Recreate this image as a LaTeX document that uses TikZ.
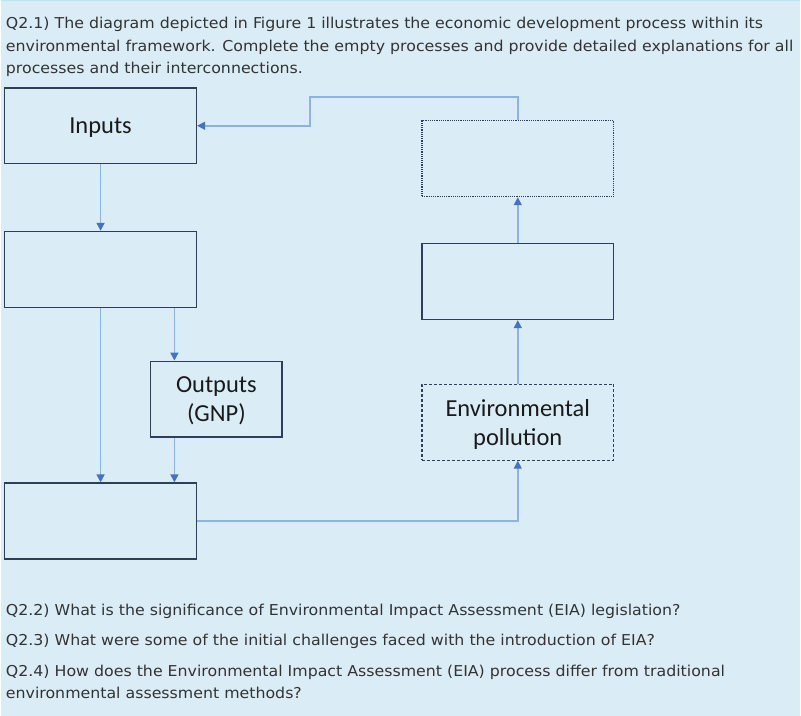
\documentclass[tikz,border=0pt]{standalone}
\usepackage{fontspec}
\usepackage{xcolor}
\usetikzlibrary{positioning}
\usetikzlibrary{arrows.meta}
\newfontfamily\qfont[FakeStretch=1.055]{DejaVu Sans}
\newfontfamily\boxfont{Carlito}
\definecolor{pagebg}{RGB}{218,237,246}
\definecolor{pagetop}{RGB}{190,228,240}
\definecolor{boxline}{RGB}{47,62,92}
\definecolor{linkline}{RGB}{141,179,226}
\definecolor{linkhead}{RGB}{68,114,196}
\definecolor{qtext}{RGB}{51,51,51}
\definecolor{boxtext}{RGB}{26,26,26}

\begin{document}
\begin{tikzpicture}[x=1pt, y=-1pt,
    procnode/.style={shape=rectangle, draw=boxline, line width=1.5pt, minimum width=192pt, minimum height=76pt, inner sep=0pt, text depth=0pt, font=\boxfont\fontsize{24.5}{29}\selectfont, text=boxtext, align=center},
    dotnode/.style={procnode, line width=1.2pt, densely dotted},
    dashnode/.style={procnode, line width=1.2pt, dash pattern=on 3pt off 2pt},
    link/.style={draw=linkline, line width=1.5pt, -{Triangle[length=8pt, width=8pt, color=linkhead]}},
    question/.style={anchor=base west, inner sep=0pt, align=left, text=qtext, font=\qfont\fontsize{15}{22.5}\selectfont}
]
% Page
\fill[pagebg] (0,0) rectangle (801,717);
\draw[pagetop, line width=1.5pt] (0,0.75) -- (801,0.75);
\useasboundingbox (0,0) rectangle (801,717);

% Questions (base = last line)
\node[question] (q_one) at (5,74) {Q2.1) The diagram depicted in Figure 1 illustrates the economic development process within its\\environmental framework. Complete the empty processes and provide detailed explanations for all\\processes and their interconnections.};

% Boxes
\node[procnode] (inputs) at (100,126) {Inputs};
\node[procnode] (prod) at (100,270) {};
\node[procnode, minimum width=132pt] (outputs) at (216,400) {Outputs\\(GNP)};
\node[procnode] (consume) at (100,522) {};

\node[dotnode] (top_box) at (518,159) {};
\node[procnode] (mid_box) at (518,282) {};
\node[dashnode] (pollution) at (518,423) {Environmental\\pollution};

% Coordinates
\coordinate (gnp_in) at ([xshift=-42pt]outputs.north);
\coordinate (loop_corner) at (310,97);

% Arrows
\draw[link] (inputs) -- (prod);
\draw[link] (prod) -- (consume);
\draw[link] (prod.south -| gnp_in) -- (gnp_in);
\draw[link] (outputs.south -| gnp_in) -- (consume.north -| gnp_in);
\draw[link] (consume.east) -| (pollution.south);
\draw[link] (pollution) -- (mid_box);
\draw[link] (mid_box) -- (top_box);
\draw[link] (top_box.north) |- (loop_corner) |- (inputs.east);

\node[question] (q_two) at (5,617) {Q2.2) What is the significance of Environmental Impact Assessment (EIA) legislation?};
\node[question] (q_three) at (5,647) {Q2.3) What were some of the initial challenges faced with the introduction of EIA?};
\node[question] (q_four) at (5,700) {Q2.4) How does the Environmental Impact Assessment (EIA) process differ from traditional\\environmental assessment methods?};

\end{tikzpicture}
\end{document}
